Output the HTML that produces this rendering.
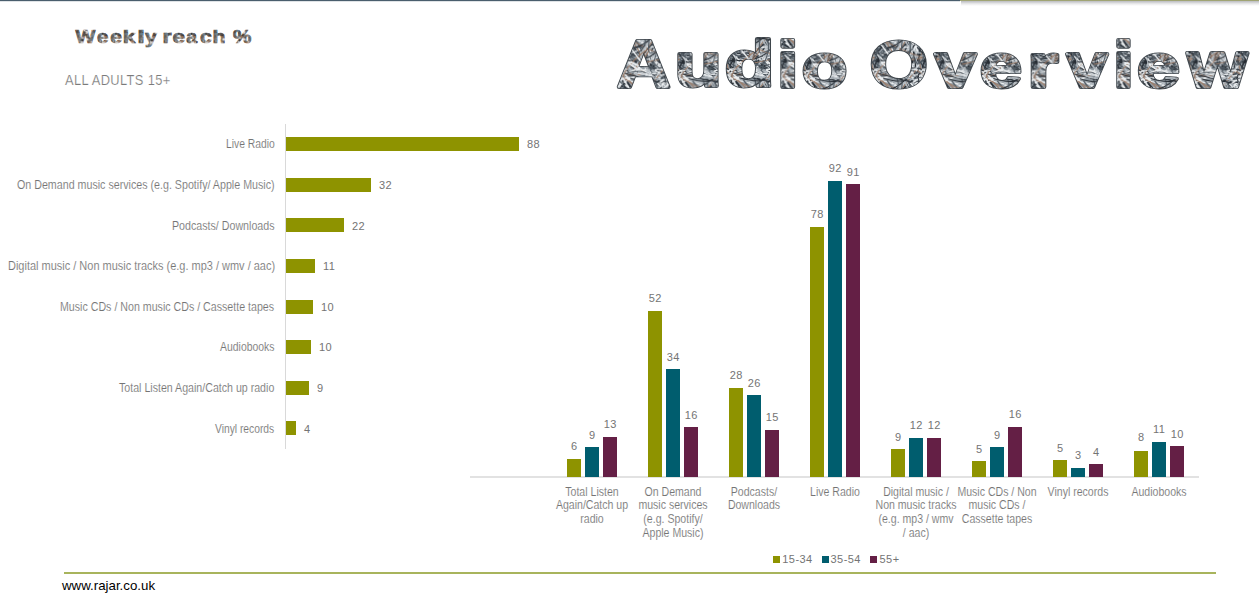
<!DOCTYPE html>
<html><head><meta charset="utf-8"><style>
html,body{margin:0;padding:0;background:#fff;width:1259px;height:601px;overflow:hidden;position:relative;font-family:"Liberation Sans", sans-serif;}
div{position:absolute;}
.topd{left:0;top:0;width:960px;height:1px;background:#4a5e6d;}
.topd2{left:0;top:1px;width:960px;height:1px;background:#dfe3e6;}
.topo{left:960px;top:0;width:299px;height:1px;background:#a0a474;}
.tops{left:961px;top:1px;width:298px;height:5px;background:linear-gradient(#bbbcc0,#d3d4d6 30%,#e9e9ea 55%,#f6f6f6 80%,#fff);}
.hax{left:285px;top:124px;width:1px;height:325px;background:#d9d9d9;}
.hb{left:286px;height:14px;background:#8e9300;}
.hv{font-size:11px;line-height:12px;color:#747474;white-space:nowrap;letter-spacing:0.5px;}
.vax{left:470px;top:476px;width:729px;height:2px;background:#e2e2e2;}
.vb{width:14px;}
.vv{width:40px;text-align:center;font-size:11px;line-height:12px;color:#747474;white-space:nowrap;letter-spacing:0.5px;text-indent:0.5px;}
.cl{width:100px;text-align:center;font-size:12px;line-height:14px;color:#747474;white-space:nowrap;transform:scaleX(0.88);-webkit-text-stroke:0.12px #fff;}
.lg{top:556px;width:7px;height:7px;}
.lt{font-size:11px;line-height:12px;color:#747474;white-space:nowrap;letter-spacing:0.45px;}
.fl{left:64px;top:572px;width:1152px;height:2px;background:#a8b45c;}
</style></head><body>
<div class="topd"></div><div class="topd2"></div><div class="topo"></div><div class="tops"></div>
<div class="hax"></div>
<div class="vax"></div>
<div class="hb" style="top:137px;width:233px"></div>
<div class="hv" style="top:138.00px;left:527.0px">88</div>
<div class="hb" style="top:178px;width:85px"></div>
<div class="hv" style="top:179.00px;left:379.0px">32</div>
<div class="hb" style="top:218px;width:58px"></div>
<div class="hv" style="top:220.00px;left:352.0px">22</div>
<div class="hb" style="top:259px;width:29px"></div>
<div class="hv" style="top:260.00px;left:323.0px">11</div>
<div class="hb" style="top:300px;width:27px"></div>
<div class="hv" style="top:301.00px;left:321.0px">10</div>
<div class="hb" style="top:340px;width:25px"></div>
<div class="hv" style="top:341.00px;left:319.0px">10</div>
<div class="hb" style="top:381px;width:23px"></div>
<div class="hv" style="top:382.00px;left:317.0px">9</div>
<div class="hb" style="top:421px;width:10px"></div>
<div class="hv" style="top:423.00px;left:304.0px">4</div>
<div class="vb" style="left:567px;top:459px;height:18px;background:#8e9300"></div>
<div class="vv" style="left:554px;top:440.00px">6</div>
<div class="vb" style="left:585px;top:447px;height:30px;background:#005d6e"></div>
<div class="vv" style="left:572px;top:429.00px">9</div>
<div class="vb" style="left:603px;top:437px;height:40px;background:#641f45"></div>
<div class="vv" style="left:590px;top:418.00px">13</div>
<div class="vb" style="left:648px;top:311px;height:166px;background:#8e9300"></div>
<div class="vv" style="left:635px;top:292.00px">52</div>
<div class="vb" style="left:666px;top:369px;height:108px;background:#005d6e"></div>
<div class="vv" style="left:653px;top:351.00px">34</div>
<div class="vb" style="left:684px;top:427px;height:50px;background:#641f45"></div>
<div class="vv" style="left:671px;top:409.00px">16</div>
<div class="vb" style="left:729px;top:388px;height:89px;background:#8e9300"></div>
<div class="vv" style="left:716px;top:369.00px">28</div>
<div class="vb" style="left:747px;top:395px;height:82px;background:#005d6e"></div>
<div class="vv" style="left:734px;top:377.00px">26</div>
<div class="vb" style="left:765px;top:430px;height:47px;background:#641f45"></div>
<div class="vv" style="left:752px;top:411.00px">15</div>
<div class="vb" style="left:810px;top:227px;height:250px;background:#8e9300"></div>
<div class="vv" style="left:797px;top:208.00px">78</div>
<div class="vb" style="left:828px;top:181px;height:296px;background:#005d6e"></div>
<div class="vv" style="left:815px;top:162.00px">92</div>
<div class="vb" style="left:846px;top:184px;height:293px;background:#641f45"></div>
<div class="vv" style="left:833px;top:166.00px">91</div>
<div class="vb" style="left:891px;top:449px;height:28px;background:#8e9300"></div>
<div class="vv" style="left:878px;top:431.00px">9</div>
<div class="vb" style="left:909px;top:438px;height:39px;background:#005d6e"></div>
<div class="vv" style="left:896px;top:419.00px">12</div>
<div class="vb" style="left:927px;top:438px;height:39px;background:#641f45"></div>
<div class="vv" style="left:914px;top:419.00px">12</div>
<div class="vb" style="left:972px;top:461px;height:16px;background:#8e9300"></div>
<div class="vv" style="left:959px;top:443.00px">5</div>
<div class="vb" style="left:990px;top:447px;height:30px;background:#005d6e"></div>
<div class="vv" style="left:977px;top:429.00px">9</div>
<div class="vb" style="left:1008px;top:427px;height:50px;background:#641f45"></div>
<div class="vv" style="left:995px;top:408.00px">16</div>
<div class="vb" style="left:1053px;top:460px;height:17px;background:#8e9300"></div>
<div class="vv" style="left:1040px;top:442.00px">5</div>
<div class="vb" style="left:1071px;top:468px;height:9px;background:#005d6e"></div>
<div class="vv" style="left:1058px;top:449.00px">3</div>
<div class="vb" style="left:1089px;top:464px;height:13px;background:#641f45"></div>
<div class="vv" style="left:1076px;top:446.00px">4</div>
<div class="vb" style="left:1134px;top:451px;height:26px;background:#8e9300"></div>
<div class="vv" style="left:1121px;top:431.00px">8</div>
<div class="vb" style="left:1152px;top:442px;height:35px;background:#005d6e"></div>
<div class="vv" style="left:1139px;top:423.00px">11</div>
<div class="vb" style="left:1170px;top:446px;height:31px;background:#641f45"></div>
<div class="vv" style="left:1157px;top:428.00px">10</div>
<div class="cl" style="left:542px;top:485.00px">Total Listen</div>
<div class="cl" style="left:542px;top:498.00px">Again/Catch up</div>
<div class="cl" style="left:542px;top:512.00px">radio</div>
<div class="cl" style="left:623px;top:485.00px">On Demand</div>
<div class="cl" style="left:623px;top:498.00px">music services</div>
<div class="cl" style="left:623px;top:512.00px">(e.g. Spotify/</div>
<div class="cl" style="left:623px;top:526.00px">Apple Music)</div>
<div class="cl" style="left:704px;top:485.00px">Podcasts/</div>
<div class="cl" style="left:704px;top:498.00px">Downloads</div>
<div class="cl" style="left:785px;top:485.00px">Live Radio</div>
<div class="cl" style="left:866px;top:485.00px">Digital music /</div>
<div class="cl" style="left:866px;top:498.00px">Non music tracks</div>
<div class="cl" style="left:866px;top:512.00px">(e.g. mp3 / wmv</div>
<div class="cl" style="left:866px;top:526.00px">/ aac)</div>
<div class="cl" style="left:947px;top:485.00px">Music CDs / Non</div>
<div class="cl" style="left:947px;top:498.00px">music CDs /</div>
<div class="cl" style="left:947px;top:512.00px">Cassette tapes</div>
<div class="cl" style="left:1028px;top:485.00px">Vinyl records</div>
<div class="cl" style="left:1109px;top:485.00px">Audiobooks</div>
<div class="lg" style="left:773px;background:#8e9300"></div>
<div class="lt" style="left:782.3px;top:553.00px">15-34</div>
<div class="lg" style="left:822px;background:#005d6e"></div>
<div class="lt" style="left:830.5px;top:553.00px">35-54</div>
<div class="lg" style="left:870px;background:#641f45"></div>
<div class="lt" style="left:879.5px;top:553.00px">55+</div>
<svg style="position:absolute;left:0;top:0" width="300" height="60" viewBox="0 0 300 60"><defs><pattern id="spk" patternUnits="userSpaceOnUse" width="16" height="16"><rect width="16" height="16" fill="#625e5b"/><circle cx="10.0" cy="11.9" r="1.2" fill="#2f2c2a"/><circle cx="13.4" cy="12.4" r="0.8" fill="#2f2c2a"/><circle cx="14.4" cy="1.8" r="1.0" fill="#c9c4be"/><circle cx="6.1" cy="1.6" r="0.8" fill="#c9c4be"/><circle cx="6.5" cy="2.9" r="1.3" fill="#3c3835"/><circle cx="2.6" cy="12.8" r="0.7" fill="#e3dfda"/><circle cx="2.0" cy="0.0" r="1.3" fill="#c9c4be"/><circle cx="12.4" cy="15.4" r="0.7" fill="#8a8580"/><circle cx="4.6" cy="15.4" r="1.0" fill="#c9c4be"/><circle cx="2.9" cy="15.5" r="0.8" fill="#3c3835"/><circle cx="4.8" cy="5.8" r="0.7" fill="#8a8580"/><circle cx="4.2" cy="5.3" r="1.3" fill="#2f2c2a"/><circle cx="9.5" cy="11.3" r="0.7" fill="#a0704f"/><circle cx="13.1" cy="7.7" r="0.9" fill="#e3dfda"/><circle cx="7.6" cy="2.8" r="0.8" fill="#2f2c2a"/><circle cx="15.2" cy="5.7" r="0.9" fill="#3c3835"/><circle cx="5.9" cy="9.3" r="0.6" fill="#2f2c2a"/><circle cx="11.3" cy="10.0" r="1.4" fill="#4a4643"/><circle cx="12.1" cy="14.9" r="1.4" fill="#a0704f"/><circle cx="8.2" cy="14.3" r="0.8" fill="#e3dfda"/><circle cx="1.7" cy="12.0" r="1.2" fill="#6a7f8d"/><circle cx="0.6" cy="15.1" r="0.7" fill="#a0704f"/><circle cx="8.2" cy="5.8" r="0.7" fill="#6a7f8d"/><circle cx="14.8" cy="8.7" r="0.8" fill="#a0704f"/><circle cx="4.9" cy="12.8" r="1.1" fill="#6a7f8d"/><circle cx="15.9" cy="2.6" r="0.6" fill="#3c3835"/><circle cx="0.5" cy="11.8" r="0.9" fill="#6a7f8d"/><circle cx="7.3" cy="6.7" r="0.6" fill="#2f2c2a"/><circle cx="12.8" cy="5.3" r="0.8" fill="#8a8580"/><circle cx="10.1" cy="12.6" r="0.7" fill="#3c3835"/><circle cx="6.0" cy="0.9" r="0.9" fill="#8a8580"/><circle cx="7.3" cy="16.0" r="1.3" fill="#e3dfda"/><circle cx="15.4" cy="11.0" r="0.9" fill="#6a7f8d"/><circle cx="4.7" cy="6.5" r="0.7" fill="#3c3835"/><circle cx="13.2" cy="8.5" r="0.7" fill="#e3dfda"/><circle cx="13.9" cy="2.9" r="1.0" fill="#a0704f"/><circle cx="1.0" cy="12.7" r="0.9" fill="#2f2c2a"/><circle cx="12.2" cy="5.8" r="1.2" fill="#6a7f8d"/><circle cx="13.4" cy="4.2" r="1.4" fill="#6a7f8d"/><circle cx="15.3" cy="5.4" r="0.7" fill="#2f2c2a"/><circle cx="7.6" cy="12.4" r="0.9" fill="#6a7f8d"/><circle cx="7.4" cy="13.1" r="1.1" fill="#a0704f"/><circle cx="5.6" cy="10.3" r="1.2" fill="#3c3835"/><circle cx="5.6" cy="13.5" r="1.3" fill="#e3dfda"/><circle cx="15.6" cy="15.3" r="1.0" fill="#8a8580"/><circle cx="3.2" cy="5.8" r="1.3" fill="#6a7f8d"/><circle cx="11.1" cy="11.5" r="1.2" fill="#8a8580"/><circle cx="9.9" cy="15.0" r="1.0" fill="#3c3835"/><circle cx="4.8" cy="8.9" r="1.3" fill="#6a7f8d"/><circle cx="11.5" cy="0.4" r="0.7" fill="#e3dfda"/><circle cx="10.0" cy="2.9" r="1.2" fill="#8a8580"/><circle cx="10.1" cy="0.7" r="1.0" fill="#c9c4be"/><circle cx="2.7" cy="14.3" r="0.7" fill="#8a8580"/><circle cx="7.7" cy="8.8" r="0.9" fill="#a0704f"/><circle cx="6.1" cy="9.8" r="1.1" fill="#c9c4be"/><circle cx="11.5" cy="6.0" r="0.9" fill="#6a7f8d"/><circle cx="13.7" cy="13.9" r="1.2" fill="#a0704f"/><circle cx="15.4" cy="8.8" r="0.8" fill="#6a7f8d"/><circle cx="8.7" cy="5.4" r="1.1" fill="#a0704f"/><circle cx="13.1" cy="6.7" r="1.3" fill="#a0704f"/><circle cx="7.5" cy="2.5" r="0.9" fill="#e3dfda"/><circle cx="15.3" cy="15.5" r="1.1" fill="#a0704f"/><circle cx="13.1" cy="10.6" r="0.9" fill="#a0704f"/><circle cx="9.1" cy="9.8" r="0.7" fill="#3c3835"/><circle cx="6.9" cy="15.6" r="1.0" fill="#e3dfda"/><circle cx="15.6" cy="6.1" r="1.4" fill="#8a8580"/><circle cx="9.5" cy="4.2" r="1.4" fill="#e3dfda"/><circle cx="4.0" cy="0.3" r="1.4" fill="#6a7f8d"/><circle cx="7.9" cy="4.6" r="1.0" fill="#4a4643"/><circle cx="10.6" cy="15.4" r="0.8" fill="#2f2c2a"/><circle cx="12.5" cy="13.2" r="0.6" fill="#6a7f8d"/><circle cx="3.9" cy="7.6" r="0.6" fill="#e3dfda"/><circle cx="4.3" cy="2.5" r="1.4" fill="#6a7f8d"/><circle cx="7.9" cy="15.9" r="1.0" fill="#4a4643"/><circle cx="0.3" cy="2.0" r="0.8" fill="#a0704f"/><circle cx="9.8" cy="11.7" r="0.6" fill="#a0704f"/><circle cx="5.8" cy="11.9" r="1.1" fill="#2f2c2a"/><circle cx="0.0" cy="8.9" r="1.1" fill="#4a4643"/><circle cx="14.2" cy="8.7" r="0.6" fill="#3c3835"/><circle cx="9.5" cy="11.0" r="1.4" fill="#e3dfda"/><circle cx="13.7" cy="13.5" r="1.0" fill="#c9c4be"/><circle cx="14.4" cy="7.4" r="1.2" fill="#6a7f8d"/><circle cx="13.4" cy="11.1" r="0.9" fill="#6a7f8d"/><circle cx="10.4" cy="7.6" r="0.8" fill="#8a8580"/><circle cx="7.7" cy="8.8" r="1.0" fill="#a0704f"/><circle cx="8.6" cy="6.8" r="1.0" fill="#2f2c2a"/><circle cx="1.1" cy="3.7" r="1.3" fill="#4a4643"/><circle cx="10.6" cy="0.4" r="1.2" fill="#4a4643"/><circle cx="16.0" cy="11.2" r="0.6" fill="#4a4643"/><circle cx="3.5" cy="10.3" r="1.4" fill="#8a8580"/></pattern></defs><text transform="matrix(1.1667 0 0 1.0231 75.60 28.05)" x="0" y="15.00" font-family="Liberation Sans" font-weight="700" font-size="18" fill="url(#spk)" stroke="url(#spk)" stroke-width="0.7">W</text><text transform="matrix(1.1400 0 0 1.0231 97.00 28.05)" x="0" y="15.00" font-family="Liberation Sans" font-weight="700" font-size="18" fill="url(#spk)" stroke="url(#spk)" stroke-width="0.7">e</text><text transform="matrix(1.1800 0 0 1.0231 110.20 28.05)" x="0" y="15.00" font-family="Liberation Sans" font-weight="700" font-size="18" fill="url(#spk)" stroke="url(#spk)" stroke-width="0.7">e</text><text transform="matrix(1.2600 0 0 1.0231 122.74 28.05)" x="0" y="15.00" font-family="Liberation Sans" font-weight="700" font-size="18" fill="url(#spk)" stroke="url(#spk)" stroke-width="0.7">k</text><text transform="matrix(1.5333 0 0 1.0231 137.27 28.05)" x="0" y="15.00" font-family="Liberation Sans" font-weight="700" font-size="18" fill="url(#spk)" stroke="url(#spk)" stroke-width="0.7">l</text><text transform="matrix(1.1700 0 0 1.0231 144.90 28.05)" x="0" y="15.00" font-family="Liberation Sans" font-weight="700" font-size="18" fill="url(#spk)" stroke="url(#spk)" stroke-width="0.7">y</text><text transform="matrix(1.2833 0 0 1.0231 162.52 28.05)" x="0" y="15.00" font-family="Liberation Sans" font-weight="700" font-size="18" fill="url(#spk)" stroke="url(#spk)" stroke-width="0.7">r</text><text transform="matrix(1.2600 0 0 1.0231 172.60 28.05)" x="0" y="15.00" font-family="Liberation Sans" font-weight="700" font-size="18" fill="url(#spk)" stroke="url(#spk)" stroke-width="0.7">e</text><text transform="matrix(1.0818 0 0 1.0231 186.30 28.05)" x="0" y="15.00" font-family="Liberation Sans" font-weight="700" font-size="18" fill="url(#spk)" stroke="url(#spk)" stroke-width="0.7">a</text><text transform="matrix(1.1900 0 0 1.0231 200.00 28.05)" x="0" y="15.00" font-family="Liberation Sans" font-weight="700" font-size="18" fill="url(#spk)" stroke="url(#spk)" stroke-width="0.7">c</text><text transform="matrix(1.1800 0 0 1.0231 212.62 28.05)" x="0" y="15.00" font-family="Liberation Sans" font-weight="700" font-size="18" fill="url(#spk)" stroke="url(#spk)" stroke-width="0.7">h</text><text transform="matrix(1.1437 0 0 1.0231 232.90 28.05)" x="0" y="15.00" font-family="Liberation Sans" font-weight="700" font-size="18" fill="url(#spk)" stroke="url(#spk)" stroke-width="0.7">%</text></svg>
<svg style="position:absolute;left:0;top:0" width="1259" height="110" viewBox="0 0 1259 110"><defs><pattern id="wire" patternUnits="userSpaceOnUse" width="44" height="44"><rect width="44" height="44" fill="#939ca3"/><g id="wg" fill="none"><path d="M20 10C54 42 5 -3 49 49" stroke="#eceff1" stroke-width="1.4"/><path d="M11 -1C55 11 65 55 36 17" stroke="#262c33" stroke-width="1.1"/><path d="M-5 6C67 12 -18 34 44 20" stroke="#eceff1" stroke-width="1.4"/><path d="M37 10C66 46 -14 -2 -0 13" stroke="#eceff1" stroke-width="1.4"/><path d="M0 -2C28 17 -7 44 38 5" stroke="#4f5962" stroke-width="1.1"/><path d="M2 30C-5 0 66 51 1 18" stroke="#4f5962" stroke-width="1.1"/><path d="M11 43C55 35 -16 68 6 16" stroke="#9d7c68" stroke-width="1.0"/><path d="M7 9C3 -18 -17 30 37 13" stroke="#262c33" stroke-width="1.1"/><path d="M8 27C65 20 29 56 15 19" stroke="#262c33" stroke-width="1.1"/><path d="M5 3C-2 -7 45 63 44 39" stroke="#262c33" stroke-width="1.1"/><path d="M6 46C15 -15 -21 65 43 28" stroke="#4f5962" stroke-width="1.1"/><path d="M8 33C31 3 -9 43 9 39" stroke="#262c33" stroke-width="1.1"/><path d="M-1 7C33 1 61 -6 25 41" stroke="#eceff1" stroke-width="1.4"/><path d="M-4 10C-8 10 29 -13 19 -2" stroke="#eceff1" stroke-width="1.4"/><path d="M15 43C40 30 -12 -22 48 30" stroke="#b9c0c6" stroke-width="1.2"/><path d="M-4 44C-23 35 20 44 33 47" stroke="#eceff1" stroke-width="1.4"/><path d="M12 49C44 60 44 41 -1 24" stroke="#262c33" stroke-width="1.1"/><path d="M38 44C60 57 14 49 14 32" stroke="#b9c0c6" stroke-width="1.2"/><path d="M42 26C30 32 -17 35 29 16" stroke="#eceff1" stroke-width="1.4"/><path d="M49 43C44 30 16 54 34 16" stroke="#262c33" stroke-width="1.1"/><path d="M-0 36C20 -3 41 22 -3 27" stroke="#b9c0c6" stroke-width="1.2"/><path d="M28 45C3 39 -6 -9 9 -4" stroke="#eceff1" stroke-width="1.4"/><path d="M44 31C6 38 -6 16 19 43" stroke="#262c33" stroke-width="1.1"/><path d="M39 44C30 5 -12 22 43 16" stroke="#eceff1" stroke-width="1.4"/><path d="M40 41C1 -9 17 1 33 46" stroke="#4f5962" stroke-width="1.1"/><path d="M7 17C5 54 67 18 29 22" stroke="#4f5962" stroke-width="1.1"/><path d="M-1 -3C42 29 4 49 42 -3" stroke="#9d7c68" stroke-width="1.0"/><path d="M-4 2C53 -3 -12 -21 20 -4" stroke="#eceff1" stroke-width="1.4"/><path d="M29 19C51 65 39 -6 29 30" stroke="#eceff1" stroke-width="1.4"/><path d="M21 5C42 -8 1 7 -4 20" stroke="#eceff1" stroke-width="1.4"/><path d="M33 23C12 49 60 -17 28 36" stroke="#b9c0c6" stroke-width="1.2"/><path d="M45 34C34 61 10 28 2 19" stroke="#eceff1" stroke-width="1.4"/><path d="M42 38C36 -6 43 52 46 20" stroke="#262c33" stroke-width="1.1"/><path d="M30 34C67 67 25 49 7 44" stroke="#262c33" stroke-width="1.1"/><path d="M12 44C-17 16 27 47 41 14" stroke="#262c33" stroke-width="1.1"/><path d="M21 -3C50 -9 6 49 39 -2" stroke="#eceff1" stroke-width="1.4"/><path d="M3 3C54 40 64 21 23 34" stroke="#9d7c68" stroke-width="1.0"/><path d="M46 -0C2 44 35 24 7 23" stroke="#262c33" stroke-width="1.1"/><path d="M41 25C54 60 -5 55 12 16" stroke="#b9c0c6" stroke-width="1.2"/><path d="M47 23C25 22 32 -22 26 6" stroke="#b9c0c6" stroke-width="1.2"/><path d="M47 23C28 21 40 -19 17 38" stroke="#b9c0c6" stroke-width="1.2"/><path d="M24 17C0 19 -13 16 47 45" stroke="#4f5962" stroke-width="1.1"/><path d="M39 44C-7 33 62 -13 21 12" stroke="#b9c0c6" stroke-width="1.2"/><path d="M37 -4C40 5 8 33 5 7" stroke="#262c33" stroke-width="1.1"/><path d="M1 34C-1 -6 25 16 2 23" stroke="#262c33" stroke-width="1.1"/><path d="M15 17C-6 34 35 25 24 4" stroke="#4f5962" stroke-width="1.1"/><path d="M41 28C45 51 60 5 41 8" stroke="#4f5962" stroke-width="1.1"/><path d="M12 45C58 -12 -3 43 7 49" stroke="#9d7c68" stroke-width="1.0"/><path d="M9 0C49 -13 13 39 40 18" stroke="#4f5962" stroke-width="1.1"/><path d="M-4 6C66 -14 23 46 32 44" stroke="#4f5962" stroke-width="1.1"/><path d="M22 32C-15 -21 27 23 5 -1" stroke="#eceff1" stroke-width="1.4"/></g><use href="#wg" x="-44" y="-44"/><use href="#wg" x="-44" y="0"/><use href="#wg" x="-44" y="44"/><use href="#wg" x="0" y="-44"/><use href="#wg" x="0" y="44"/><use href="#wg" x="44" y="-44"/><use href="#wg" x="44" y="0"/><use href="#wg" x="44" y="44"/></pattern></defs><text transform="matrix(1.0784 0 0 0.9706 617.28 30.56)" x="0" y="58.00" font-family="Liberation Sans" font-weight="700" font-size="68" fill="#3f464c" stroke="#3f464c" stroke-width="4.30" stroke-linejoin="round">A</text><text transform="matrix(1.1189 0 0 0.8878 674.96 34.84)" x="0" y="58.00" font-family="Liberation Sans" font-weight="700" font-size="68" fill="#3f464c" stroke="#3f464c" stroke-width="4.30" stroke-linejoin="round">u</text><text transform="matrix(1.1816 0 0 0.9455 724.92 31.33)" x="0" y="58.00" font-family="Liberation Sans" font-weight="700" font-size="68" fill="#3f464c" stroke="#3f464c" stroke-width="4.30" stroke-linejoin="round">d</text><text transform="matrix(1.0857 0 0 0.9630 777.53 31.22)" x="0" y="58.00" font-family="Liberation Sans" font-weight="700" font-size="68" fill="#3f464c" stroke="#3f464c" stroke-width="4.30" stroke-linejoin="round">i</text><text transform="matrix(1.0854 0 0 0.8976 802.00 34.75)" x="0" y="58.00" font-family="Liberation Sans" font-weight="700" font-size="68" fill="#3f464c" stroke="#3f464c" stroke-width="4.30" stroke-linejoin="round">o</text><text transform="matrix(1.0882 0 0 0.9623 870.11 30.90)" x="0" y="58.00" font-family="Liberation Sans" font-weight="700" font-size="68" fill="#3f464c" stroke="#3f464c" stroke-width="4.30" stroke-linejoin="round">O</text><text transform="matrix(1.0814 0 0 0.9250 934.94 33.50)" x="0" y="58.00" font-family="Liberation Sans" font-weight="700" font-size="68" fill="#3f464c" stroke="#3f464c" stroke-width="4.30" stroke-linejoin="round">v</text><text transform="matrix(1.1026 0 0 0.9000 980.10 34.50)" x="0" y="58.00" font-family="Liberation Sans" font-weight="700" font-size="68" fill="#3f464c" stroke="#3f464c" stroke-width="4.30" stroke-linejoin="round">e</text><text transform="matrix(1.1462 0 0 0.9098 1027.71 34.41)" x="0" y="58.00" font-family="Liberation Sans" font-weight="700" font-size="68" fill="#3f464c" stroke="#3f464c" stroke-width="4.30" stroke-linejoin="round">r</text><text transform="matrix(1.0674 0 0 0.9250 1067.00 33.50)" x="0" y="58.00" font-family="Liberation Sans" font-weight="700" font-size="68" fill="#3f464c" stroke="#3f464c" stroke-width="4.30" stroke-linejoin="round">v</text><text transform="matrix(1.0571 0 0 0.9593 1113.49 31.64)" x="0" y="58.00" font-family="Liberation Sans" font-weight="700" font-size="68" fill="#3f464c" stroke="#3f464c" stroke-width="4.30" stroke-linejoin="round">i</text><text transform="matrix(1.1211 0 0 0.9000 1137.20 34.50)" x="0" y="58.00" font-family="Liberation Sans" font-weight="700" font-size="68" fill="#3f464c" stroke="#3f464c" stroke-width="4.30" stroke-linejoin="round">e</text><text transform="matrix(1.1220 0 0 0.9400 1187.77 32.80)" x="0" y="58.00" font-family="Liberation Sans" font-weight="700" font-size="68" fill="#3f464c" stroke="#3f464c" stroke-width="4.30" stroke-linejoin="round">w</text><text transform="matrix(1.0784 0 0 0.9706 617.28 30.56)" x="0" y="58.00" font-family="Liberation Sans" font-weight="700" font-size="68" fill="url(#wire)" stroke="url(#wire)" stroke-width="2.60" stroke-linejoin="round">A</text><text transform="matrix(1.1189 0 0 0.8878 674.96 34.84)" x="0" y="58.00" font-family="Liberation Sans" font-weight="700" font-size="68" fill="url(#wire)" stroke="url(#wire)" stroke-width="2.60" stroke-linejoin="round">u</text><text transform="matrix(1.1816 0 0 0.9455 724.92 31.33)" x="0" y="58.00" font-family="Liberation Sans" font-weight="700" font-size="68" fill="url(#wire)" stroke="url(#wire)" stroke-width="2.60" stroke-linejoin="round">d</text><text transform="matrix(1.0857 0 0 0.9630 777.53 31.22)" x="0" y="58.00" font-family="Liberation Sans" font-weight="700" font-size="68" fill="url(#wire)" stroke="url(#wire)" stroke-width="2.60" stroke-linejoin="round">i</text><text transform="matrix(1.0854 0 0 0.8976 802.00 34.75)" x="0" y="58.00" font-family="Liberation Sans" font-weight="700" font-size="68" fill="url(#wire)" stroke="url(#wire)" stroke-width="2.60" stroke-linejoin="round">o</text><text transform="matrix(1.0882 0 0 0.9623 870.11 30.90)" x="0" y="58.00" font-family="Liberation Sans" font-weight="700" font-size="68" fill="url(#wire)" stroke="url(#wire)" stroke-width="2.60" stroke-linejoin="round">O</text><text transform="matrix(1.0814 0 0 0.9250 934.94 33.50)" x="0" y="58.00" font-family="Liberation Sans" font-weight="700" font-size="68" fill="url(#wire)" stroke="url(#wire)" stroke-width="2.60" stroke-linejoin="round">v</text><text transform="matrix(1.1026 0 0 0.9000 980.10 34.50)" x="0" y="58.00" font-family="Liberation Sans" font-weight="700" font-size="68" fill="url(#wire)" stroke="url(#wire)" stroke-width="2.60" stroke-linejoin="round">e</text><text transform="matrix(1.1462 0 0 0.9098 1027.71 34.41)" x="0" y="58.00" font-family="Liberation Sans" font-weight="700" font-size="68" fill="url(#wire)" stroke="url(#wire)" stroke-width="2.60" stroke-linejoin="round">r</text><text transform="matrix(1.0674 0 0 0.9250 1067.00 33.50)" x="0" y="58.00" font-family="Liberation Sans" font-weight="700" font-size="68" fill="url(#wire)" stroke="url(#wire)" stroke-width="2.60" stroke-linejoin="round">v</text><text transform="matrix(1.0571 0 0 0.9593 1113.49 31.64)" x="0" y="58.00" font-family="Liberation Sans" font-weight="700" font-size="68" fill="url(#wire)" stroke="url(#wire)" stroke-width="2.60" stroke-linejoin="round">i</text><text transform="matrix(1.1211 0 0 0.9000 1137.20 34.50)" x="0" y="58.00" font-family="Liberation Sans" font-weight="700" font-size="68" fill="url(#wire)" stroke="url(#wire)" stroke-width="2.60" stroke-linejoin="round">e</text><text transform="matrix(1.1220 0 0 0.9400 1187.77 32.80)" x="0" y="58.00" font-family="Liberation Sans" font-weight="700" font-size="68" fill="url(#wire)" stroke="url(#wire)" stroke-width="2.60" stroke-linejoin="round">w</text></svg>
<div style="left:65.20px;top:72.00px;white-space:nowrap;transform-origin:0 0;transform:scaleX(0.9000);font-size:14.3px;line-height:16px;color:#7a7a7a;-webkit-text-stroke:0.2px #fff;letter-spacing:0.4px;">ALL ADULTS 15+</div>
<div style="left:62.00px;top:578.00px;white-space:nowrap;transform-origin:0 0;transform:scaleX(0.9968);font-size:13.33px;line-height:15px;color:#000;">www.rajar.co.uk</div>
<div style="left:225.84px;top:137.00px;white-space:nowrap;transform-origin:0 0;transform:scaleX(0.8618);font-size:12px;line-height:14px;color:#747474;-webkit-text-stroke:0.12px #fff;">Live Radio</div>
<div style="left:16.91px;top:178.00px;white-space:nowrap;transform-origin:0 0;transform:scaleX(0.8899);font-size:12px;line-height:14px;color:#747474;-webkit-text-stroke:0.12px #fff;">On Demand music services (e.g. Spotify/ Apple Music)</div>
<div style="left:171.91px;top:219.00px;white-space:nowrap;transform-origin:0 0;transform:scaleX(0.8886);font-size:12px;line-height:14px;color:#747474;-webkit-text-stroke:0.12px #fff;">Podcasts/ Downloads</div>
<div style="left:7.99px;top:259.00px;white-space:nowrap;transform-origin:0 0;transform:scaleX(0.9145);font-size:12px;line-height:14px;color:#747474;-webkit-text-stroke:0.12px #fff;">Digital music / Non music tracks (e.g. mp3 / wmv / aac)</div>
<div style="left:60.41px;top:300.00px;white-space:nowrap;transform-origin:0 0;transform:scaleX(0.8867);font-size:12px;line-height:14px;color:#747474;-webkit-text-stroke:0.12px #fff;">Music CDs / Non music CDs / Cassette tapes</div>
<div style="left:220.20px;top:340.00px;white-space:nowrap;transform-origin:0 0;transform:scaleX(0.8694);font-size:12px;line-height:14px;color:#747474;-webkit-text-stroke:0.12px #fff;">Audiobooks</div>
<div style="left:119.20px;top:381.00px;white-space:nowrap;transform-origin:0 0;transform:scaleX(0.8851);font-size:12px;line-height:14px;color:#747474;-webkit-text-stroke:0.12px #fff;">Total Listen Again/Catch up radio</div>
<div style="left:215.00px;top:422.00px;white-space:nowrap;transform-origin:0 0;transform:scaleX(0.8565);font-size:12px;line-height:14px;color:#747474;-webkit-text-stroke:0.12px #fff;">Vinyl records</div>
<div class="fl"></div>
</body></html>
